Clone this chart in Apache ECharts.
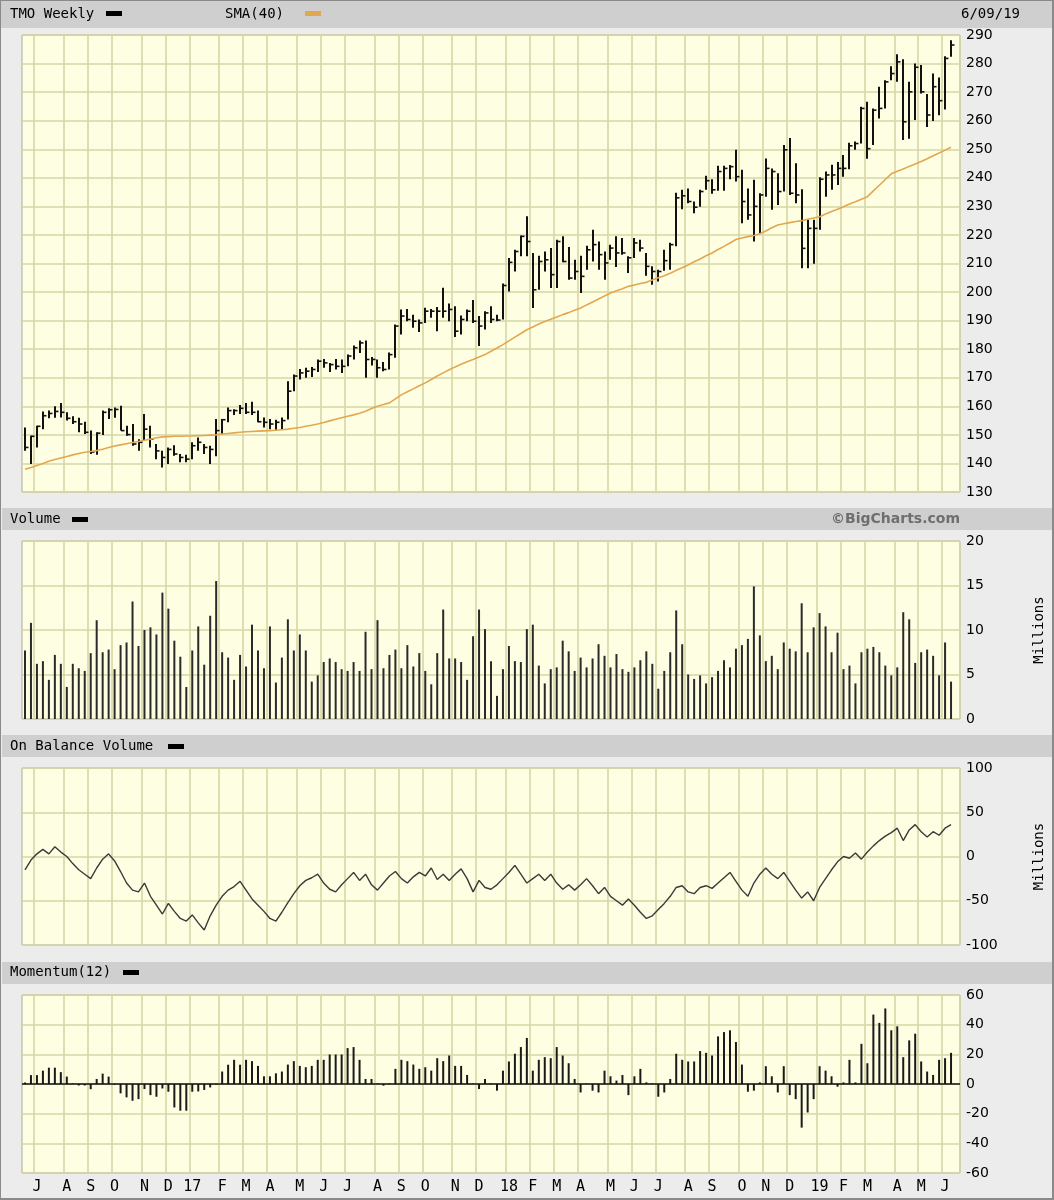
<!DOCTYPE html>
<html><head><meta charset="utf-8">
<script src="https://cdn.jsdelivr.net/npm/echarts@6/dist/echarts.min.js"></script>
<style>html,body{margin:0;padding:0;background:#ececec;}#c{width:1054px;height:1200px;}</style>
</head><body><div id="c"></div>
<script>
// ---- data (weekly, first week 2016-06-19, last 2019-06-09) ----
const startWeek = [2016, 5, 19];
const weekCount = 156;

const high = [
152.6,149.7,153.2,158.2,158.5,160.0,161.2,157.9,156.5,156.0,
154.6,151.5,150.9,158.5,159.3,159.6,160.2,153.2,153.8,148.5,
157.3,153.2,146.8,144.4,145.6,146.4,143.3,143.0,147.4,149.1,
146.8,146.2,155.6,155.6,159.6,159.0,160.5,161.2,161.6,158.5,
156.1,155.6,155.3,156.1,168.8,171.1,173.1,173.5,173.8,176.4,
176.6,175.2,176.6,176.4,178.1,181.3,183.0,183.0,177.3,176.4,
175.5,178.8,188.6,193.9,194.1,192.1,190.4,194.5,194.1,194.8,
201.5,196.0,195.0,191.8,193.9,197.2,191.6,193.3,195.0,192.1,
203.0,211.9,214.8,219.8,226.5,213.7,212.7,214.2,215.4,218.3,
219.5,215.8,211.3,212.7,216.2,221.8,217.7,214.2,216.6,219.5,
218.9,212.5,218.9,218.3,213.7,209.0,207.8,214.8,217.3,234.8,
235.8,236.3,231.7,235.8,240.7,239.5,244.2,244.2,244.5,249.8,
242.8,236.3,239.3,234.6,246.8,243.3,241.6,251.5,253.9,245.1,
236.0,225.3,225.3,240.2,242.2,244.6,245.5,248.0,252.3,252.7,
264.9,266.6,264.3,271.9,274.2,279.1,283.3,281.5,273.6,280.0,
279.5,269.3,276.5,275.1,282.6,288.2];
const low = [
144.4,139.8,145.6,152.0,155.8,156.0,156.1,155.0,153.8,150.9,
150.3,143.3,143.0,150.0,155.6,156.0,151.5,149.7,146.2,144.4,
148.0,145.6,141.5,138.6,139.8,142.7,140.4,140.4,141.5,144.4,
143.3,139.8,142.5,150.3,154.4,157.0,157.3,157.3,157.0,154.4,
152.6,152.0,151.8,152.0,155.4,165.3,169.4,170.0,170.3,172.0,
173.5,172.0,172.9,171.7,174.0,176.4,178.7,170.0,174.3,170.0,
172.3,172.9,177.0,185.1,189.8,187.5,186.0,189.2,191.0,186.3,
191.0,189.8,184.3,185.1,189.8,189.2,181.1,186.9,189.2,189.8,
190.4,200.2,207.2,212.5,212.5,194.4,200.8,207.2,201.4,201.4,
210.4,204.3,204.3,199.7,207.8,210.7,207.8,204.3,211.3,208.8,
213.1,206.7,211.9,214.2,205.7,202.6,203.7,207.5,207.8,216.0,
229.0,231.1,227.6,229.9,235.8,234.4,235.5,235.5,239.5,238.7,
224.1,225.3,217.7,220.6,233.4,228.8,230.5,235.2,234.0,231.1,
208.3,208.3,209.9,221.8,233.4,235.8,237.5,240.4,243.0,249.8,
252.0,246.7,251.5,260.8,264.3,274.2,273.6,253.2,253.7,260.2,
269.5,257.8,259.9,261.9,263.9,282.4];
const close = [
145.6,149.5,153.0,156.7,157.5,158.2,157.9,155.8,154.6,153.8,
150.9,144.0,150.6,157.9,158.8,158.9,151.5,150.1,146.8,147.4,
152.0,148.5,144.4,142.1,144.9,143.3,142.1,141.5,146.2,147.4,
145.6,144.9,151.5,155.3,158.5,158.5,159.3,157.9,157.9,154.6,
154.4,153.8,154.4,155.0,165.3,170.6,171.7,172.3,172.9,175.8,
175.2,174.6,174.0,174.0,177.6,180.5,182.2,176.4,176.4,173.5,
172.9,178.1,188.1,191.6,190.4,189.8,189.2,193.3,193.3,193.3,
193.3,193.9,186.3,190.4,193.3,189.8,188.1,192.7,190.4,190.2,
202.3,210.4,214.2,219.5,217.7,200.8,210.7,211.3,206.1,217.7,
210.7,204.9,207.2,205.5,214.8,216.6,213.1,210.2,215.4,213.7,
213.7,212.0,217.2,215.4,209.0,207.2,207.2,211.0,216.6,233.0,
233.7,231.7,229.7,235.2,239.0,235.8,242.2,243.3,243.9,240.4,
231.7,227.0,230.0,234.0,243.3,242.2,235.2,249.8,234.6,234.0,
215.3,222.3,222.3,239.5,241.0,241.0,243.3,243.3,251.2,252.0,
264.3,250.2,263.7,264.3,273.6,276.5,280.6,259.6,270.1,278.7,
270.1,262.0,271.9,267.0,281.8,286.5];
const sma40 = [
138.0,138.6,139.3,140.0,140.8,141.4,141.9,142.4,143.0,143.5,
143.9,144.2,144.5,145.0,145.6,146.1,146.5,146.9,147.3,147.7,
148.1,148.5,149.0,149.3,149.4,149.5,149.5,149.6,149.6,149.7,
149.8,149.9,150.0,150.3,150.5,150.7,150.9,151.1,151.2,151.3,
151.4,151.5,151.6,151.8,152.0,152.3,152.6,153.0,153.4,153.8,
154.3,154.9,155.5,156.0,156.5,157.0,157.6,158.3,159.2,160.0,
160.6,161.2,162.6,164.0,165.1,166.1,167.2,168.2,169.4,170.6,
171.7,172.8,173.8,174.7,175.6,176.4,177.3,178.1,179.3,180.4,
181.6,182.9,184.2,185.5,186.8,187.8,188.8,189.7,190.5,191.3,
192.1,192.8,193.6,194.4,195.5,196.5,197.6,198.6,199.7,200.5,
201.2,202.0,202.5,203.0,203.4,204.2,205.0,205.7,206.6,207.6,
208.5,209.5,210.6,211.6,212.7,213.7,214.9,216.0,217.2,218.4,
218.9,219.4,219.8,220.4,221.4,222.5,223.5,223.9,224.3,224.7,
225.0,225.5,225.9,226.4,227.3,228.2,229.0,229.9,230.8,231.6,
232.5,233.4,235.4,237.4,239.4,241.4,242.3,243.1,244.0,244.8,
245.7,246.7,247.7,248.7,249.7,250.7];
const volume = [
7.7,10.8,6.2,6.5,4.4,7.2,6.2,3.6,6.2,5.7,
5.4,7.4,11.1,7.5,7.8,5.6,8.3,8.6,13.2,8.2,
10.0,10.3,9.5,14.2,12.4,8.8,7.0,3.6,7.7,10.4,
6.1,11.6,15.5,7.5,6.9,4.4,7.2,5.9,10.6,7.7,
5.7,10.4,4.1,6.9,11.2,7.7,9.5,7.7,4.2,4.9,
6.4,6.8,6.4,5.6,5.4,6.4,5.4,9.8,5.6,11.1,
5.7,7.2,7.8,5.7,8.3,5.9,7.4,5.4,3.9,7.4,
12.3,6.8,6.8,6.4,4.4,9.3,12.3,10.1,6.5,2.6,
5.6,8.2,6.5,6.4,10.1,10.6,6.0,4.0,5.6,5.8,
8.8,7.6,5.4,6.9,5.8,6.8,8.4,7.1,5.8,7.3,
5.6,5.3,5.8,6.6,7.6,6.2,3.4,5.4,7.5,12.2,
8.4,5.0,4.5,4.9,4.0,4.7,5.4,6.6,5.8,7.9,
8.3,9.0,14.9,9.4,6.5,7.1,5.6,8.6,7.9,7.6,
13.0,7.5,10.3,11.9,10.4,7.5,9.7,5.6,6.0,4.0,
7.5,7.9,8.1,7.5,6.0,4.9,5.8,12.0,11.2,6.3,
7.5,7.8,7.1,4.9,8.6,4.2];
const obv = [
-15,-4,3,8,3,11,5,0,-8,-15,
-20,-25,-13,-3,3,-5,-17,-30,-38,-40,
-30,-45,-55,-65,-53,-62,-70,-73,-66,-75,
-83,-67,-55,-45,-38,-34,-28,-38,-48,-55,
-62,-70,-73,-63,-52,-42,-33,-27,-24,-20,
-30,-37,-40,-32,-25,-18,-27,-20,-32,-38,
-30,-22,-17,-25,-30,-23,-18,-22,-13,-26,
-20,-27,-20,-14,-25,-40,-27,-35,-37,-32,
-25,-18,-10,-20,-30,-25,-20,-27,-20,-30,
-37,-32,-38,-32,-25,-33,-42,-35,-45,-50,
-55,-48,-55,-63,-70,-67,-60,-53,-45,-35,
-33,-40,-42,-35,-33,-36,-30,-24,-18,-28,
-38,-45,-30,-20,-13,-20,-25,-18,-28,-38,
-47,-40,-50,-35,-25,-15,-6,0,-2,4,
-3,5,12,18,23,27,32,18,30,36,
28,22,28,24,32,36];
const momentum = [
1,6,6,9,11,11,8,5,0.3,-1,
-1,-3.5,3.4,7,5,-0.5,-6.3,-9,-11.3,-10.2,
-3.4,-7.5,-8.6,-3,-5.2,-15.8,-18,-18,-5.2,-5,
-4,-2.3,-0.5,8.4,13,16.3,13,16.3,15.4,12.2,
5.2,5.2,7.2,8.4,13.1,15.4,12.2,11.3,12.2,16.3,
16.3,19.9,19.9,19.9,24.2,24.9,16.3,3.4,3.4,0.3,
-1.1,0.3,10.2,16.3,15.4,13.1,10.2,11.3,9,17.4,
15.4,19.2,12.2,12.2,6.1,0.3,-3.4,3.4,0.3,-4.5,
9,15.2,20.4,24.9,31,9,16.3,18.1,17.4,24.9,
19.2,14,3.4,-5.7,0.3,-4.5,-5.7,9,5.2,2.3,
6.1,-7.5,5.2,10.2,1.1,0.3,-8.6,-5.7,3.4,20.4,
16.3,15.2,15.2,22.2,21,19.2,32.1,35,36.2,28.3,
13.1,-5.2,-4.5,1.1,12,5.2,-5.7,12,-7.5,-10.2,
-29.4,-19.2,-10.2,12,9,5.2,-1.8,1.1,16.3,1.1,
27.1,14,46.8,41.2,50.9,36.2,38.9,18.1,29.4,33.9,
15.2,8.4,6.1,16.3,17.4,21];
const monthLetters = ['J','F','M','A','M','J','J','A','S','O','N','D'];
const priceAxis = {min:130, max:290, interval:10};
const volAxis = {min:0, max:20, interval:5};
const obvAxis = {min:-100, max:100, interval:50};
const momAxis = {min:-60, max:60, interval:20};

// ---- categories ----
const weeks = [];
const t0 = Date.UTC(startWeek[0], startWeek[1], startWeek[2]);
for (let i = 0; i < weekCount; i++) weeks.push(new Date(t0 + i * 7 * 864e5).toISOString().slice(0, 10));
const cats = weeks.concat(['']);
const isMonthStart = cats.map(c => c !== '' && +c.slice(8, 10) <= 7);
const monthLabel = v => {
  if (!v) return '';
  const m = +v.slice(5, 7) - 1;
  return m === 0 ? v.slice(2, 4) : monthLetters[m];
};

const GRID_BG = '#fefee2', GRID_LINE = '#d6d6a6', BORDER = '#a9a9a0';
const font = 'DejaVu Sans';
const mono = 'DejaVu Sans Mono';

const grids = [
  {top: 35, height: 457},
  {top: 541, height: 178},
  {top: 768, height: 177},
  {top: 995, height: 178}
].map(g => Object.assign({left: 22, width: 938, show: true, backgroundColor: GRID_BG, borderColor: BORDER, borderWidth: 1}, g));

const xAxes = grids.map((g, k) => ({
  type: 'category', gridIndex: k, data: cats, boundaryGap: true,
  axisLine: {show: false}, axisTick: {show: false},
  axisLabel: k === 3 ? {show: true, interval: (i) => isMonthStart[i], formatter: monthLabel,
    color: '#000', fontFamily: mono, fontSize: 15, margin: 7} : {show: false},
  splitLine: {show: true, interval: (i) => isMonthStart[i], lineStyle: {color: GRID_LINE, width: 1.6}}
}));

function yAx(k, ax, name) {
  return Object.assign({
    type: 'value', gridIndex: k, position: 'right',
    axisLine: {show: false}, axisTick: {show: false},
    axisLabel: {color: '#000', fontFamily: font, fontSize: 14, margin: 6},
    splitLine: {show: true, lineStyle: {color: GRID_LINE, width: 1.6}},
    name: name || '', nameLocation: 'middle', nameRotate: 90, nameGap: 72,
    nameTextStyle: {fontFamily: mono, fontSize: 14, color: '#000'}
  }, ax);
}
const yAxes = [yAx(0, priceAxis), yAx(1, volAxis, 'Millions'), yAx(2, obvAxis, 'Millions'), yAx(3, momAxis)];

const ohlc = high.map((h, i) => [i, h, low[i], close[i]]);

const option = {
  backgroundColor: '#ececec',
  animation: false,
  grid: grids, xAxis: xAxes, yAxis: yAxes,
  series: [
    {type: 'custom', xAxisIndex: 0, yAxisIndex: 0, data: ohlc, encode: {x: 0, y: [1, 2, 3]},
      renderItem: (params, api) => {
        const i = api.value(0);
        const hi = api.coord([i, api.value(1)]);
        const lo = api.coord([i, api.value(2)]);
        const cl = api.coord([i, api.value(3)]);
        const x = Math.round(hi[0]);
        return {type: 'group', children: [
          {type: 'line', shape: {x1: x, y1: hi[1], x2: x, y2: lo[1]}, style: {stroke: '#111', lineWidth: 2}},
          {type: 'line', shape: {x1: x, y1: cl[1], x2: x + 3.5, y2: cl[1]}, style: {stroke: '#111', lineWidth: 1.6}}
        ]};
      }},
    {type: 'line', xAxisIndex: 0, yAxisIndex: 0, data: sma40, showSymbol: false, smooth: false,
      lineStyle: {color: '#e3a74f', width: 1.6}},
    {type: 'bar', xAxisIndex: 1, yAxisIndex: 1, data: volume, barWidth: 2, itemStyle: {color: '#2a2a2a'}},
    {type: 'line', xAxisIndex: 2, yAxisIndex: 2, data: obv, showSymbol: false,
      lineStyle: {color: '#3a3a3a', width: 1.4}},
    {type: 'bar', xAxisIndex: 3, yAxisIndex: 3, data: momentum, barWidth: 2, itemStyle: {color: '#1a1a1a'},
      markLine: {silent: true, symbol: 'none', label: {show: false}, lineStyle: {color: '#111', width: 1.6, type: 'solid'},
        data: [{yAxis: 0}]}}
  ],
  graphic: [
    {type: 'rect', shape: {x: 0, y: 0, width: 1054, height: 28}, style: {fill: '#cfcfcf'}, z: -1},
    {type: 'rect', shape: {x: 2, y: 508, width: 1052, height: 22}, style: {fill: '#cfcfcf'}, z: -1},
    {type: 'rect', shape: {x: 2, y: 735, width: 1052, height: 22}, style: {fill: '#cfcfcf'}, z: -1},
    {type: 'rect', shape: {x: 2, y: 962, width: 1052, height: 22}, style: {fill: '#cfcfcf'}, z: -1},
    {type: 'rect', shape: {x: 0, y: 0, width: 1053, height: 1199}, style: {fill: 'none', stroke: '#8a8a8a', lineWidth: 2}, z: 10},
    {type: 'text', x: 10, y: 14, style: {text: 'TMO Weekly', font: '14px ' + mono, fill: '#000', verticalAlign: 'middle'}},
    {type: 'rect', shape: {x: 106, y: 11, width: 16, height: 5}, style: {fill: '#000'}},
    {type: 'text', x: 225, y: 14, style: {text: 'SMA(40)', font: '14px ' + mono, fill: '#000', verticalAlign: 'middle'}},
    {type: 'rect', shape: {x: 305, y: 11, width: 16, height: 5}, style: {fill: '#e3a74f'}},
    {type: 'text', x: 1020, y: 14, style: {text: '6/09/19', font: '14px ' + mono, fill: '#000', align: 'right', verticalAlign: 'middle'}},
    {type: 'text', x: 10, y: 519, style: {text: 'Volume', font: '14px ' + mono, fill: '#000', verticalAlign: 'middle'}},
    {type: 'rect', shape: {x: 72, y: 517, width: 16, height: 5}, style: {fill: '#000'}},
    {type: 'text', x: 960, y: 519, style: {text: '©BigCharts.com', font: 'bold 14px ' + font, fill: '#6e6e6e', align: 'right', verticalAlign: 'middle'}},
    {type: 'text', x: 10, y: 746, style: {text: 'On Balance Volume', font: '14px ' + mono, fill: '#000', verticalAlign: 'middle'}},
    {type: 'rect', shape: {x: 168, y: 744, width: 16, height: 5}, style: {fill: '#000'}},
    {type: 'text', x: 10, y: 972, style: {text: 'Momentum(12)', font: '14px ' + mono, fill: '#000', verticalAlign: 'middle'}},
    {type: 'rect', shape: {x: 123, y: 970, width: 16, height: 5}, style: {fill: '#000'}}
  ]
};
const chart = echarts.init(document.getElementById('c'), null, {renderer: 'canvas'});
chart.setOption(option);
</script></body></html>
